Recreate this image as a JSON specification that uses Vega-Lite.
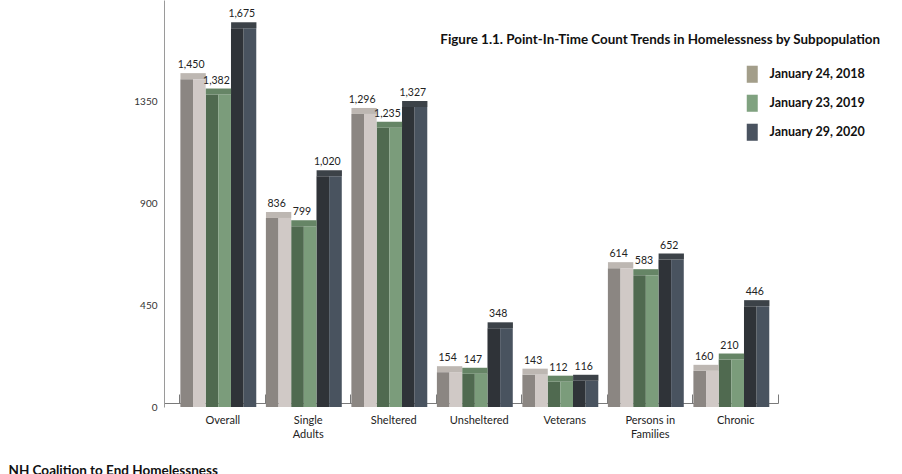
{
  "$schema": "https://vega.github.io/schema/vega-lite/v6.json",
  "autosize": "none",
  "width": 614,
  "height": 407,
  "padding": {"left": 164, "top": 0, "right": 124, "bottom": 67},
  "background": "white",
  "config": {"view": {"stroke": null}, "font": "Lato, sans-serif"},
  "title": {
    "text": "Figure 1.1. Point-In-Time Count Trends in Homelessness by Subpopulation",
    "anchor": "end",
    "frame": "group",
    "orient": "top",
    "offset": 0,
    "baseline": "top",
    "dx": 102,
    "dy": 46,
    "font": "Lato, sans-serif",
    "fontSize": 13.4,
    "fontWeight": "bold",
    "color": "#111111"
  },
  "data": {
    "values": [
      {"category": "Overall", "series": "January 24, 2018", "value": 1450},
      {"category": "Overall", "series": "January 23, 2019", "value": 1382},
      {"category": "Overall", "series": "January 29, 2020", "value": 1675},
      {"category": "Single Adults", "series": "January 24, 2018", "value": 836},
      {"category": "Single Adults", "series": "January 23, 2019", "value": 799},
      {"category": "Single Adults", "series": "January 29, 2020", "value": 1020},
      {"category": "Sheltered", "series": "January 24, 2018", "value": 1296},
      {"category": "Sheltered", "series": "January 23, 2019", "value": 1235},
      {"category": "Sheltered", "series": "January 29, 2020", "value": 1327},
      {"category": "Unsheltered", "series": "January 24, 2018", "value": 154},
      {"category": "Unsheltered", "series": "January 23, 2019", "value": 147},
      {"category": "Unsheltered", "series": "January 29, 2020", "value": 348},
      {"category": "Veterans", "series": "January 24, 2018", "value": 143},
      {"category": "Veterans", "series": "January 23, 2019", "value": 112},
      {"category": "Veterans", "series": "January 29, 2020", "value": 116},
      {"category": "Persons in Families", "series": "January 24, 2018", "value": 614},
      {"category": "Persons in Families", "series": "January 23, 2019", "value": 583},
      {"category": "Persons in Families", "series": "January 29, 2020", "value": 652},
      {"category": "Chronic", "series": "January 24, 2018", "value": 160},
      {"category": "Chronic", "series": "January 23, 2019", "value": 210},
      {"category": "Chronic", "series": "January 29, 2020", "value": 446}
    ]
  },
  "encoding": {
    "x": {
      "field": "category",
      "type": "nominal",
      "sort": null,
      "scale": {"paddingInner": 0, "paddingOuter": 0.0906, "align": 1},
      "axis": {
        "title": "NH Coalition to End Homelessness",
        "titleX": -156,
        "titleY": 60,
        "titleAlign": "left",
        "titleAnchor": null,
        "titleBaseline": "top",
        "titleFont": "Lato, sans-serif",
        "titleFontSize": 13.5,
        "titleFontWeight": "bold",
        "titleColor": "#111111",
        "offset": -4,
        "domainColor": "#7a7a7a",
        "tickBand": "extent",
        "tickSize": -9,
        "tickColor": "#7a7a7a",
        "labelAngle": 0,
        "labelFont": "Lato, sans-serif",
        "labelFontSize": 11,
        "labelColor": "#222222",
        "labelPadding": 20,
        "labelLineHeight": 14,
        "labelExpr": "datum.value == 'Single Adults' ? ['Single', 'Adults'] : datum.value == 'Persons in Families' ? ['Persons in', 'Families'] : datum.value"
      }
    },
    "y": {
      "field": "value",
      "type": "quantitative",
      "scale": {"domain": [0, 1800], "nice": false},
      "axis": {
        "title": null,
        "values": [0, 450, 900, 1350],
        "format": "d",
        "grid": false,
        "ticks": false,
        "domainColor": "#9a9a9a",
        "labelFont": "Lato, sans-serif",
        "labelFontSize": 10,
        "labelColor": "#333333",
        "labelPadding": 7
      }
    }
  },
  "layer": [
    {
      "mark": {"type": "bar", "width": {"band": 1}},
      "encoding": {
        "xOffset": {
          "field": "series", "type": "nominal", "sort": null,
          "scale": {"paddingInner": 0.5, "paddingOuter": 0.44, "align": 0.04}
        },
        "color": {
          "field": "series", "type": "nominal", "sort": null, "legend": null,
          "scale": {"domain": ["January 24, 2018", "January 23, 2019", "January 29, 2020"], "range": ["#8b8682", "#506a50", "#2f3338"]}
        }
      }
    },
    {
      "mark": {"type": "bar", "width": {"band": 1}},
      "encoding": {
        "xOffset": {
          "field": "series", "type": "nominal", "sort": null,
          "scale": {"paddingInner": 0.5, "paddingOuter": 0.44, "align": 0.608}
        },
        "color": {
          "field": "series", "type": "nominal", "sort": null, "legend": null,
          "scale": {"domain": ["January 24, 2018", "January 23, 2019", "January 29, 2020"], "range": ["#d0c9c6", "#7b9c7b", "#49535f"]}
        }
      }
    },
    {
      "mark": {"type": "bar", "width": {"band": 1}, "y2Offset": -6},
      "encoding": {
        "xOffset": {
          "field": "series", "type": "nominal", "sort": null,
          "scale": {"paddingInner": 0, "paddingOuter": 0.188, "align": 0.1}
        },
        "y2": {"field": "value"},
        "color": {
          "field": "series", "type": "nominal", "sort": null, "legend": null,
          "scale": {"domain": ["January 24, 2018", "January 23, 2019", "January 29, 2020"], "range": ["#bdb7b2", "#668566", "#3c4248"]}
        }
      }
    },
    {
      "mark": {"type": "text", "dy": -14, "dx": -2, "fontSize": 10.5, "font": "Lato, sans-serif", "color": "#222222"},
      "encoding": {
        "xOffset": {
          "field": "series", "type": "nominal", "sort": null,
          "scale": {"type": "band", "paddingInner": 0, "paddingOuter": 0.188, "align": 0.1}
        },
        "text": {"field": "value", "type": "quantitative", "format": ","}
      }
    },
    {
      "mark": {"type": "point", "filled": true, "opacity": 0, "size": 1},
      "encoding": {
        "color": {
          "field": "series", "type": "nominal", "sort": null,
          "scale": {"domain": ["January 24, 2018", "January 23, 2019", "January 29, 2020"], "range": ["#a39e8a", "#80a280", "#4a5360"]},
          "legend": {
            "title": null,
            "orient": "none",
            "legendX": 582,
            "legendY": 68,
            "symbolType": "M-1,-1.55H1V1.55H-1Z",
            "symbolSize": 121,
            "symbolOpacity": 1,
            "symbolStrokeWidth": 0,
            "labelFont": "Lato, sans-serif",
            "labelFontSize": 12.5,
            "labelFontWeight": "bold",
            "labelColor": "#111111",
            "labelOffset": 11,
            "rowPadding": 11
          }
        }
      }
    }
  ],
  "resolve": {"scale": {"color": "independent", "xOffset": "independent"}}
}
